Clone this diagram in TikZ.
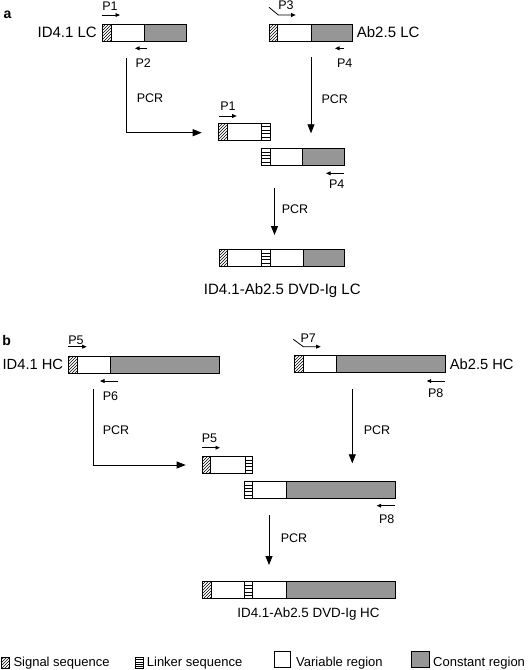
\documentclass[tikz,border=0pt]{standalone}
\usepackage{fontspec}
\setmainfont{Liberation Sans}
\usetikzlibrary{arrows.meta,patterns,calc}
\definecolor{cgray}{RGB}{150,150,150}
\newcommand{\barseg}[5]{\node[#2, minimum width={#4pt-#3pt}] (#1) at (#3,#5) {};}
\begin{document}
\begin{tikzpicture}[x=1pt,y=-1pt,
  seg/.style={draw=black, line width=0.8pt, rectangle, inner sep=0pt, outer sep=0pt, minimum height=17pt, anchor=west},
  sig/.style={seg, pattern=north east lines, pattern color=black},
  lnk/.style={seg, fill=white, path picture={\foreach \f in {0.2,0.4,0.6,0.8}{\draw[line width=0.6pt] ($(path picture bounding box.south west)!\f!(path picture bounding box.north west)$) -- ($(path picture bounding box.south east)!\f!(path picture bounding box.north east)$);}}},
  var/.style={seg, fill=white},
  con/.style={seg, fill=cgray},
  prim/.style={line width=0.8pt, -{Triangle[length=4.5pt,width=3.8pt]}},
  pcr/.style={line width=0.8pt, -{Triangle[length=9pt,width=7pt]}},
  lab/.style={font=\fontsize{12.5}{14}\selectfont, inner sep=0pt, text depth=0pt},
  big/.style={font=\fontsize{15}{17}\selectfont, inner sep=0pt, text depth=0pt},
  bigb/.style={font=\fontsize{14.7}{17}\selectfont, inner sep=0pt, text depth=0pt},
  leg/.style={font=\fontsize{13}{15}\selectfont, inner sep=0pt, text depth=0pt, anchor=west},
  panel/.style={font=\bfseries\fontsize{14}{16}\selectfont, inner sep=0pt, text depth=0pt}
]
\fill[white] (0,0) rectangle (528,670);
\useasboundingbox (0,0) rectangle (528,670);

% ---------------- panel a ----------------
\node[panel] (pa) at (7.5,15) {a};

\barseg{Aas}{sig}{102.7}{111}{32.5}
\barseg{Aav}{var}{111}{144}{32.5}
\barseg{Aac}{con}{144}{186}{32.5}
\node[big, anchor=east] (Aal) at (97,32.5) {ID4.1 LC};

\barseg{Abs}{sig}{269.3}{277.7}{32.5}
\barseg{Abv}{var}{277.7}{311}{32.5}
\barseg{Abc}{con}{311}{352.7}{32.5}
\node[big, anchor=west] (Abl) at (356.7,32.5) {Ab2.5 LC};

\barseg{Acs}{sig}{218.3}{227.7}{131.7}
\barseg{Acv}{var}{227.7}{261}{131.7}
\barseg{Acl}{lnk}{261}{270}{131.7}

\barseg{Adl}{lnk}{261}{270}{157}
\barseg{Adv}{var}{270}{302.7}{157}
\barseg{Adc}{con}{302.7}{344.3}{157}

\barseg{Aes}{sig}{219.3}{227.7}{258}
\barseg{Aev}{var}{227.7}{261.5}{258}
\barseg{Ael}{lnk}{261.5}{270}{258}
\barseg{Aew}{var}{270}{303.3}{258}
\barseg{Aec}{con}{303.3}{344.3}{258}
\node[font=\fontsize{15}{17}\selectfont, inner sep=0pt, text depth=0pt] (Ael2) at (282.3,289.3) {ID4.1-Ab2.5 DVD-Ig LC};

% primers a
\coordinate (p1a) at (101.7,15); \coordinate (p1b) at (120,15);
\draw[prim] (p1a) -- (p1b);
\node[lab] (P1t) at (110,6.5) {P1};
\coordinate (p2a) at (147,48.3); \coordinate (p2b) at (135,48.3);
\draw[prim] (p2a) -- (p2b);
\node[lab] (P2t) at (143.3,62.7) {P2};
\coordinate (p1ma) at (219,116); \coordinate (p1mb) at (236.7,116);
\draw[prim] (p1ma) -- (p1mb);
\node[lab] (P1m) at (228,106) {P1};
\coordinate (p3a) at (269,7.3); \coordinate (p3b) at (278.3,15); \coordinate (p3c) at (295.7,15);
\draw[prim] (p3a) -- (p3b) -- (p3c);
\node[lab] (P3t) at (286,5) {P3};
\coordinate (p4a) at (344,48.3); \coordinate (p4b) at (335,48.3);
\draw[prim] (p4a) -- (p4b);
\node[lab] (P4t) at (344.7,62.7) {P4};
\coordinate (p4ma) at (344,173.3); \coordinate (p4mb) at (326,173.3);
\draw[prim] (p4ma) -- (p4mb);
\node[lab] (P4m) at (336.7,184) {P4};

% PCR a
\coordinate (ca1) at (126.7,58); \coordinate (ca1e) at (201.7,132.7);
\draw[pcr] (ca1) |- (ca1e);
\node[lab] (PCRa1) at (150,98) {PCR};
\coordinate (ca2) at (311,57.3); \coordinate (ca2e) at (311,133.3);
\draw[pcr] (ca2) -- (ca2e);
\node[lab] (PCRa2) at (334.7,99) {PCR};
\coordinate (ca3) at (274.5,188); \coordinate (ca3e) at (274.5,235);
\draw[pcr] (ca3) -- (ca3e);
\node[lab] (PCRa3) at (295,209.3) {PCR};

% ---------------- panel b ----------------
\node[panel] (pb) at (6.7,340.8) {b};

\barseg{Bas}{sig}{68.3}{77.3}{364.7}
\barseg{Bav}{var}{77.3}{110}{364.7}
\barseg{Bac}{con}{110}{219.3}{364.7}
\node[bigb, anchor=east] (Bal) at (63.3,364.5) {ID4.1 HC};

\barseg{Bbs}{sig}{294}{303}{364.3}
\barseg{Bbv}{var}{303}{336.3}{364.3}
\barseg{Bbc}{con}{336.3}{445}{364.3}
\node[bigb, anchor=west] (Bbl) at (449.7,364.5) {Ab2.5 HC};

\barseg{Bcs}{sig}{202.3}{210.7}{465}
\barseg{Bcv}{var}{210.7}{245}{465}
\barseg{Bcl}{lnk}{245}{252.7}{465}

\barseg{Bdl}{lnk}{244.5}{252.7}{490}
\barseg{Bdv}{var}{252.7}{286}{490}
\barseg{Bdc}{con}{286}{395}{490}

\barseg{Bes}{sig}{202.3}{211}{590.3}
\barseg{Bev}{var}{211}{244.5}{590.3}
\barseg{Bel}{lnk}{244.5}{252.7}{590.3}
\barseg{Bew}{var}{252.7}{286}{590.3}
\barseg{Bec}{con}{286}{395}{590.3}
\node[font=\fontsize{13.4}{16}\selectfont, inner sep=0pt, text depth=0pt] (Bel2) at (308.5,612.7) {ID4.1-Ab2.5 DVD-Ig HC};

% primers b
\coordinate (p5a) at (68.3,346.7); \coordinate (p5b) at (86.7,346.7);
\draw[prim] (p5a) -- (p5b);
\node[lab] (P5t) at (76,340) {P5};
\coordinate (p6a) at (118.3,381); \coordinate (p6b) at (100,381);
\draw[prim] (p6a) -- (p6b);
\node[lab] (P6t) at (110.5,396) {P6};
\coordinate (p5ma) at (201.7,447.7); \coordinate (p5mb) at (220,447.7);
\draw[prim] (p5ma) -- (p5mb);
\node[lab] (P5m) at (209.5,438.3) {P5};
\coordinate (p7a) at (293.3,339.3); \coordinate (p7b) at (303.3,346.7); \coordinate (p7c) at (320.7,346.7);
\draw[prim] (p7a) -- (p7b) -- (p7c);
\node[lab] (P7t) at (308.3,338.3) {P7};
\coordinate (p8a) at (445,381); \coordinate (p8b) at (426.7,381);
\draw[prim] (p8a) -- (p8b);
\node[lab] (P8t) at (435.7,393.3) {P8};
\coordinate (p8ma) at (395,505.7); \coordinate (p8mb) at (376.7,505.7);
\draw[prim] (p8ma) -- (p8mb);
\node[lab] (P8m) at (386.7,519.3) {P8};

% PCR b
\coordinate (cb1) at (93.3,389.3); \coordinate (cb1e) at (185.7,465);
\draw[pcr] (cb1) |- (cb1e);
\node[lab] (PCRb1) at (116,430) {PCR};
\coordinate (cb2) at (352.3,389.3); \coordinate (cb2e) at (352.3,463.3);
\draw[pcr] (cb2) -- (cb2e);
\node[lab] (PCRb2) at (377,430) {PCR};
\coordinate (cb3) at (269,515); \coordinate (cb3e) at (269,565);
\draw[pcr] (cb3) -- (cb3e);
\node[lab] (PCRb3) at (294,538.3) {PCR};

% ---------------- legend ----------------
\node[sig, minimum width=8pt, minimum height=11pt] (Ls) at (1,663) {};
\node[leg] (Lst) at (13.3,662) {Signal sequence};
\node[lnk, minimum width=8.3pt, minimum height=11pt] (Ll) at (135,663) {};
\node[leg] (Llt) at (146.7,662) {Linker sequence};
\node[var, minimum width=16pt, minimum height=16pt] (Lv) at (274,659) {};
\node[leg] (Lvt) at (296,662) {Variable region};
\node[con, minimum width=17.5pt, minimum height=16pt] (Lc) at (411.5,659) {};
\node[leg] (Lct) at (433,662) {Constant region};
\end{tikzpicture}
\end{document}
